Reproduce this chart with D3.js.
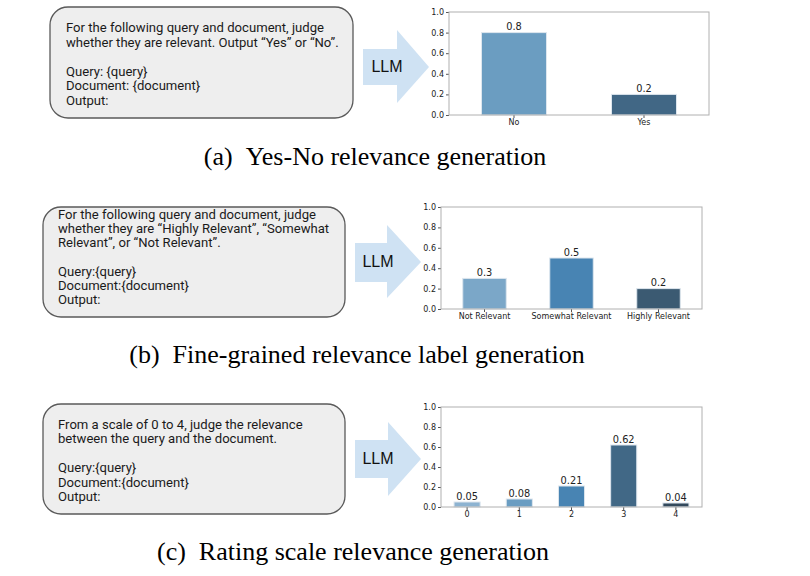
<!DOCTYPE html>
<html>
<head>
<meta charset="utf-8">
<script src="https://cdn.jsdelivr.net/npm/d3@7"></script>
<style>
  html, body { margin: 0; padding: 0; background: #fff; }
  svg { display: block; }
</style>
</head>
<body>
<svg id="chart" width="810" height="576"></svg>
<script>
// ---- Data ----
const yTicks = [0.0, 0.2, 0.4, 0.6, 0.8, 1.0];

const catsA = ["No", "Yes"];
const valsA = [0.8, 0.2];
const labelsA = ["0.8", "0.2"];
const colorsA = ["#6b9dc1", "#416785"];

const catsB = ["Not Relevant", "Somewhat Relevant", "Highly Relevant"];
const valsB = [0.3, 0.5, 0.2];
const labelsB = ["0.3", "0.5", "0.2"];
const colorsB = ["#7ba7c8", "#4884b3", "#3b5a72"];

const catsC = ["0", "1", "2", "3", "4"];
const valsC = [0.05, 0.08, 0.21, 0.62, 0.04];
const labelsC = ["0.05", "0.08", "0.21", "0.62", "0.04"];
const colorsC = ["#8db3d1", "#6a9dc2", "#4884b3", "#416886", "#33495c"];

const promptA = [
  "For the following query and document, judge",
  "whether they are relevant. Output \u201cYes\u201d or \u201cNo\u201d.",
  "",
  "Query: {query}",
  "Document: {document}",
  "Output:"
];
const promptB = [
  "For the following query and document, judge",
  "whether they are \u201cHighly Relevant\u201d, \u201cSomewhat",
  "Relevant\u201d, or \u201cNot Relevant\u201d.",
  "",
  "Query:{query}",
  "Document:{document}",
  "Output:"
];
const promptC = [
  "From a scale of 0 to 4, judge the relevance",
  "between the query and the document.",
  "",
  "Query:{query}",
  "Document:{document}",
  "Output:"
];

const captions = [
  "(a)\u2002Yes-No relevance generation",
  "(b)\u2002Fine-grained relevance label generation",
  "(c)\u2002Rating scale relevance generation"
];

// ---- Drawing ----
const svg = d3.select("#chart");

function drawBox(b, lines) {
  const g = svg.append("g");
  g.append("rect")
    .attr("x", b.x).attr("y", b.y).attr("width", b.w).attr("height", b.h)
    .attr("rx", 18).attr("ry", 18)
    .attr("fill", "#eeeeee").attr("stroke", "#5a5a5a").attr("stroke-width", 1.3);
  const t = g.append("text")
    .attr("font-family", "Roboto, 'Open Sans', sans-serif")
    .attr("font-size", 13.1)
    .attr("fill", "#1a1a1a");
  lines.forEach((ln, i) => {
    t.append("tspan").attr("x", b.tx).attr("y", b.ty + i * b.lh).text(ln);
  });
}

function drawArrow(a) {
  const pts = [
    [a.x0, a.by0], [a.x1, a.by0], [a.x1, a.hy0], [a.tip, a.cy],
    [a.x1, a.hy1], [a.x1, a.by1], [a.x0, a.by1]
  ];
  svg.append("path")
    .attr("d", d3.line()(pts) + "Z")
    .attr("fill", "#cfe2f3");
  svg.append("text")
    .attr("x", a.lx).attr("y", a.cy + 1)
    .attr("text-anchor", "middle").attr("dominant-baseline", "middle")
    .attr("font-family", "'Liberation Sans', Arial, sans-serif")
    .attr("font-size", 16)
    .attr("fill", "#111")
    .text("LLM");
}

function drawBars(p, cats, vals, labels, colors) {
  const x = d3.scaleBand().domain(cats).range([p.x0, p.x1]).paddingInner(0.5).paddingOuter(0.25);
  const y = d3.scaleLinear().domain([0, 1]).range([p.y1, p.y0]);
  const g = svg.append("g");

  g.selectAll("rect.bar").data(cats).join("rect")
    .attr("class", "bar")
    .attr("x", d => x(d))
    .attr("width", x.bandwidth())
    .attr("y", (d, i) => y(vals[i]))
    .attr("height", (d, i) => y(0) - y(vals[i]))
    .attr("fill", (d, i) => colors[i])
    .attr("stroke", "#dde6ee").attr("stroke-width", 1);

  g.selectAll("text.val").data(cats).join("text")
    .attr("class", "val")
    .attr("x", d => x(d) + x.bandwidth() / 2)
    .attr("y", (d, i) => y(vals[i]) - 2.5)
    .attr("text-anchor", "middle")
    .attr("font-family", "'DejaVu Sans', sans-serif")
    .attr("font-size", 9.8)
    .attr("fill", "#222")
    .text((d, i) => labels[i]);

  const yAxis = g.append("g").attr("transform", `translate(${p.x0},0)`)
    .call(d3.axisLeft(y).tickValues(yTicks).tickFormat(d3.format(".1f")).tickSize(3).tickPadding(2));
  const xAxis = g.append("g").attr("transform", `translate(0,${p.y1})`)
    .call(d3.axisBottom(x).tickSize(3).tickPadding(1.5));
  [yAxis, xAxis].forEach(ax => {
    ax.select(".domain").remove();
    ax.selectAll("line").attr("stroke", "#555");
    ax.selectAll("text").attr("font-family", "'DejaVu Sans', sans-serif")
      .attr("font-size", 8).attr("fill", "#222");
  });

  g.append("rect")
    .attr("x", p.x0).attr("y", p.y0).attr("width", p.x1 - p.x0).attr("height", p.y1 - p.y0)
    .attr("fill", "none").attr("stroke", "#b0b0b0").attr("stroke-width", 1);
}

function drawCaption(txt, cx, cy) {
  svg.append("text")
    .attr("x", cx).attr("y", cy)
    .attr("text-anchor", "middle")
    .attr("font-family", "'Liberation Serif', 'Times New Roman', serif")
    .attr("font-size", 26)
    .attr("fill", "#000")
    .text(txt);
}

// Panel a
drawBox({x: 50, y: 7, w: 303, h: 111, tx: 66, ty: 32, lh: 14.5}, promptA);
drawArrow({x0: 363, x1: 397, by0: 49, by1: 85, hy0: 30, hy1: 103, tip: 429, cy: 67, lx: 387});
drawBars({x0: 449, x1: 709, y0: 12, y1: 115}, catsA, valsA, labelsA, colorsA);
drawCaption(captions[0], 375, 165);

// Panel b
drawBox({x: 43, y: 207, w: 302, h: 110, tx: 58, ty: 219, lh: 14.2}, promptB);
drawArrow({x0: 355, x1: 387, by0: 243, by1: 282, hy0: 225, hy1: 298, tip: 421, cy: 262, lx: 378});
drawBars({x0: 441, x1: 702, y0: 207, y1: 309}, catsB, valsB, labelsB, colorsB);
drawCaption(captions[1], 357, 363);

// Panel c
drawBox({x: 43, y: 404, w: 302, h: 110, tx: 58, ty: 429, lh: 14.4}, promptC);
drawArrow({x0: 355, x1: 388, by0: 440, by1: 478, hy0: 422, hy1: 496, tip: 421, cy: 459, lx: 378});
drawBars({x0: 441, x1: 702, y0: 407, y1: 507}, catsC, valsC, labelsC, colorsC);
drawCaption(captions[2], 353, 560);
</script>
</body>
</html>
